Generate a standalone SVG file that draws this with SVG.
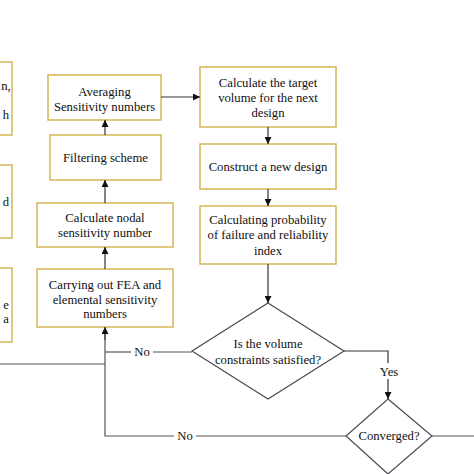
<svg xmlns="http://www.w3.org/2000/svg" width="474" height="474" viewBox="0 0 474 474" font-family="Liberation Serif, serif">
<defs>
<marker id="ah" viewBox="0 0 10 10" refX="10" refY="5" markerWidth="7" markerHeight="7" orient="auto" markerUnits="userSpaceOnUse"><path d="M0,0 L10,5 L0,10 z" fill="#111"/></marker>
<style>
.box{fill:#fff;stroke:#d6b656;stroke-width:1.5}
.dia{fill:#fff;stroke:#4a4a58;stroke-width:1.2}
.t{font-family:'Liberation Serif',serif;font-size:12.7px;fill:#111;text-anchor:middle}
.ln{fill:none;stroke:#555;stroke-width:1.2}
.ar{fill:none;stroke:#333;stroke-width:1.2;marker-end:url(#ah)}
</style>
</defs>
<rect width="474" height="474" fill="#fff"/>
<g id="leftA"><rect class="box" x="-10" y="62" width="22" height="73"/><text class="t" x="6" y="90">n,</text><text class="t" x="6" y="119">h</text></g>
<g id="leftB"><rect class="box" x="-10" y="165" width="22" height="73"/><text class="t" x="6" y="206">d</text></g>
<g id="leftC"><rect class="box" x="-10" y="268" width="22" height="74"/><text class="t" x="6" y="309">e</text><text class="t" x="6" y="323">a</text></g>
<g id="averaging"><rect class="box" x="48" y="75" width="113" height="45"/><text class="t" x="104.5" y="96">Averaging</text><text class="t" x="104.5" y="111">Sensitivity numbers</text></g>
<g id="filtering"><rect class="box" x="50" y="135" width="111" height="45"/><text class="t" x="105.5" y="162">Filtering scheme</text></g>
<g id="nodal"><rect class="box" x="37" y="203" width="136" height="44"/><text class="t" x="105" y="222">Calculate nodal</text><text class="t" x="105" y="237">sensitivity number</text></g>
<g id="fea"><rect class="box" x="37" y="269" width="136" height="58"/><text class="t" x="105" y="289">Carrying out FEA and</text><text class="t" x="105" y="304">elemental sensitivity</text><text class="t" x="105" y="318">numbers</text></g>
<g id="target"><rect class="box" x="200" y="67" width="136" height="60"/><text class="t" x="268" y="87">Calculate the target</text><text class="t" x="268" y="102">volume for the next</text><text class="t" x="268" y="117">design</text></g>
<g id="construct"><rect class="box" x="200" y="144" width="136" height="45"/><text class="t" x="268" y="171">Construct a new design</text></g>
<g id="probability"><rect class="box" x="200" y="206" width="136" height="58"/><text class="t" x="268" y="224">Calculating probability</text><text class="t" x="268" y="239">of failure and reliability</text><text class="t" x="268" y="255">index</text></g>
<g id="volume"><polygon class="dia" points="268,303 344,351 268,399 192,351"/><text class="t" x="268" y="348">Is the volume</text><text class="t" x="268" y="364">constraints satisfied?</text></g>
<g id="converged"><polygon class="dia" points="388,399 432,436 388,474 346,436"/><text class="t" x="389" y="440">Converged?</text></g>
<g id="connectors">
<line class="ar" x1="105" y1="203" x2="105" y2="180"/>
<line class="ar" x1="105" y1="135" x2="105" y2="120"/>
<line class="ar" x1="105" y1="269" x2="105" y2="247"/>
<line class="ar" x1="161" y1="97" x2="200" y2="97"/>
<line class="ar" x1="268" y1="127" x2="268" y2="144"/>
<line class="ar" x1="268" y1="189" x2="268" y2="206"/>
<line class="ar" x1="268" y1="264" x2="268" y2="303"/>
<polyline class="ar" points="344,351 388,351 388,399"/>
<line class="ln" x1="192" y1="352" x2="153" y2="352"/>
<line class="ln" x1="131" y1="352" x2="105" y2="352"/>
<line class="ln" x1="346" y1="436" x2="196" y2="436"/>
<polyline class="ln" points="174,436 105,436 105,330"/>
<line class="ar" x1="105" y1="340" x2="105" y2="327"/>
<line class="ln" x1="0" y1="364" x2="105" y2="364"/>
<line class="ln" x1="432" y1="436" x2="474" y2="436"/>
<rect x="377" y="363" width="23" height="16" fill="#fff"/>
<text class="t" x="389" y="376">Yes</text>
<text class="t" x="142" y="356">No</text>
<text class="t" x="185" y="440">No</text>
</g>
</svg>
